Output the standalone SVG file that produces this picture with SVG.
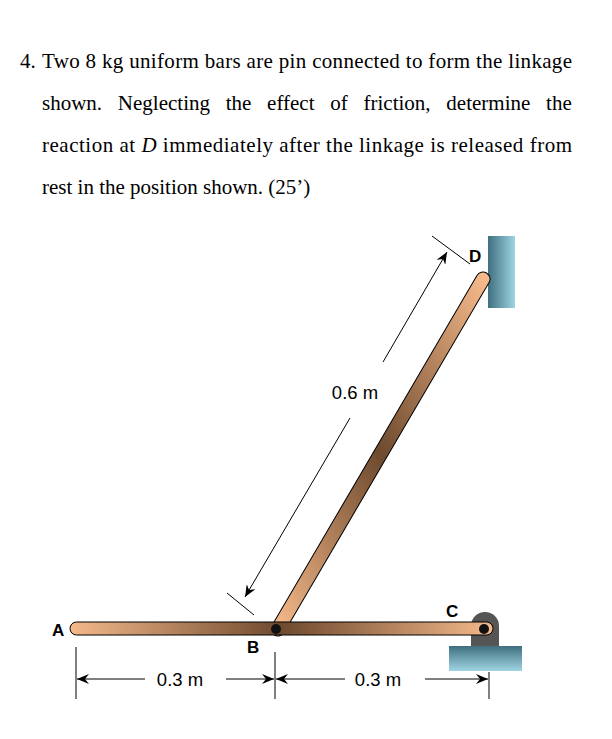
<svg xmlns="http://www.w3.org/2000/svg" width="612" height="739" viewBox="0 0 612 739">
<style>
.t{font-family:"Liberation Serif",serif;font-size:21px;fill:#000}
.l{font-family:"Liberation Sans",Arial,sans-serif;font-size:18.5px;fill:#000}
.b{font-family:"Liberation Sans",Arial,sans-serif;font-size:17px;font-weight:bold;fill:#000}
.d{stroke:#000;stroke-width:1;fill:none}
</style>
<defs>
<linearGradient id="hb" x1="0" x2="1" y1="0" y2="0">
<stop offset="0" stop-color="#f5b98a"/><stop offset="0.5" stop-color="#6e4a2e"/><stop offset="1" stop-color="#f5b98a"/></linearGradient>
<linearGradient id="ib" x1="0" x2="1" y1="1" y2="0">
<stop offset="0" stop-color="#f5b98a"/><stop offset="0.5" stop-color="#6e4a2e"/><stop offset="1" stop-color="#f5b98a"/></linearGradient>
<linearGradient id="wall" x1="0" x2="1"><stop offset="0" stop-color="#3f6f80"/><stop offset="1" stop-color="#9fd5e3"/></linearGradient>
<linearGradient id="base" x1="0" x2="0" y1="0" y2="1"><stop offset="0" stop-color="#3f6f80"/><stop offset="1" stop-color="#9fd5e3"/></linearGradient>
<marker id="ar" markerWidth="12" markerHeight="10" refX="12" refY="5" orient="auto" markerUnits="userSpaceOnUse"><path d="M0,0 L12,5 L0,10 L4,5 Z" fill="#000"/></marker>
</defs>
<g id="text">
<text class="t" x="20" y="68">4.</text>
<text class="t" x="42" y="68" textLength="530" lengthAdjust="spacing">Two 8 kg uniform bars are pin connected to form the linkage</text>
<text class="t" x="42" y="110" word-spacing="10.5">shown. Neglecting the effect of friction, determine the</text>
<text class="t" x="42" y="152" textLength="530" lengthAdjust="spacing">reaction at <tspan font-style="italic">D</tspan> immediately after the linkage is released from</text>
<text class="t" x="42" y="194">rest in the position shown. (25’)</text>
</g>
<g id="wallD"><rect x="488" y="236" width="27" height="72" fill="url(#wall)"/></g>
<g id="supportC">
<path d="M471,646 V626 a14,14 0 0 1 28,0 V646 Z" fill="#555"/>
<rect x="449" y="646" width="73" height="25" fill="url(#base)"/>
</g>
<g id="barBD"><line x1="278" y1="629" x2="483" y2="279" stroke="#000" stroke-width="15" stroke-linecap="round"/><line x1="278" y1="629" x2="483" y2="279" stroke="url(#ib)" stroke-width="13" stroke-linecap="round"/></g>
<g id="barAC"><rect x="70" y="622" width="423" height="13" rx="6.5" fill="url(#hb)" stroke="#000" stroke-width="1"/></g>
<g id="pins"><circle cx="276" cy="629" r="5" fill="#111"/><circle cx="484" cy="629" r="5" fill="#111"/></g>
<g id="connectors">
<line class="d" x1="432" y1="236" x2="470" y2="264"/>
<line class="d" x1="227" y1="593" x2="254" y2="615"/>
<line class="d" x1="383" y1="362" x2="447" y2="252" marker-end="url(#ar)"/>
<line class="d" x1="350" y1="418" x2="245" y2="597" marker-end="url(#ar)"/>
<line class="d" x1="76" y1="647" x2="76" y2="699"/>
<line class="d" x1="275" y1="652" x2="275" y2="699"/>
<line class="d" x1="489" y1="672" x2="489" y2="699"/>
<line class="d" x1="145" y1="679" x2="77" y2="679" marker-end="url(#ar)"/>
<line class="d" x1="226" y1="679" x2="274" y2="679" marker-end="url(#ar)"/>
<line class="d" x1="345" y1="679" x2="276" y2="679" marker-end="url(#ar)"/>
<line class="d" x1="425" y1="679" x2="488" y2="679" marker-end="url(#ar)"/>
</g>
<g id="labels">
<text class="l" x="355" y="399" text-anchor="middle">0.6 m</text>
<text class="l" x="180" y="686" text-anchor="middle">0.3 m</text>
<text class="l" x="378" y="686" text-anchor="middle">0.3 m</text>
<text class="b" x="52" y="636">A</text>
<text class="b" x="247" y="653">B</text>
<text class="b" x="446" y="617">C</text>
<text class="b" x="469" y="262">D</text>
</g>
</svg>
